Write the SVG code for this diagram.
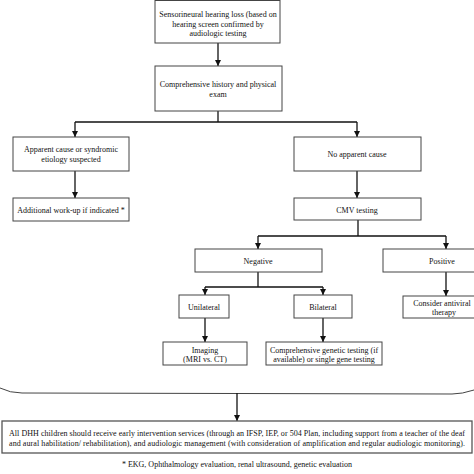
<svg xmlns="http://www.w3.org/2000/svg" width="474" height="474" viewBox="0 0 474 474">
<style>
.box{fill:#fff;stroke:#444;stroke-width:1}
.t{font-family:"Liberation Serif","Times New Roman",serif;font-size:8px;fill:#111;text-anchor:middle}
.c{fill:none;stroke:#111;stroke-width:1.3}
.b{fill:none;stroke:#444;stroke-width:1}
</style>
<defs>
<marker id="ah" markerUnits="userSpaceOnUse" markerWidth="6" markerHeight="6" refX="6" refY="3" orient="auto">
<path d="M0,0 L6,3 L0,6 z" fill="#111"/>
</marker>
</defs>
<rect width="474" height="474" fill="#fff"/>
<g id="connectors">
<line class="c" x1="218" y1="43" x2="218" y2="66" marker-end="url(#ah)"/>
<polyline class="c" points="218,111 218,122"/>
<polyline class="c" points="75,122 357,122"/>
<line class="c" x1="75" y1="122" x2="75" y2="137" marker-end="url(#ah)"/>
<line class="c" x1="357" y1="122" x2="357" y2="137" marker-end="url(#ah)"/>
<line class="c" x1="75" y1="171" x2="75" y2="198" marker-end="url(#ah)"/>
<line class="c" x1="357" y1="171" x2="357" y2="198" marker-end="url(#ah)"/>
<polyline class="c" points="358,220 358,236"/>
<polyline class="c" points="258,236 446,236"/>
<line class="c" x1="258" y1="236" x2="258" y2="249" marker-end="url(#ah)"/>
<line class="c" x1="446" y1="236" x2="446" y2="249" marker-end="url(#ah)"/>
<polyline class="c" points="258,272 258,287"/>
<polyline class="c" points="205,287 323,287"/>
<line class="c" x1="205" y1="287" x2="205" y2="295" marker-end="url(#ah)"/>
<line class="c" x1="323" y1="287" x2="323" y2="295" marker-end="url(#ah)"/>
<line class="c" x1="446" y1="272" x2="446" y2="296" marker-end="url(#ah)"/>
<line class="c" x1="205" y1="318" x2="205" y2="342" marker-end="url(#ah)"/>
<line class="c" x1="323" y1="318" x2="323" y2="342" marker-end="url(#ah)"/>
<path class="b" d="M0,388 Q10,393 22,393 L452,394 Q462,394 474,390"/>
<line class="c" x1="237" y1="393" x2="237" y2="421" marker-end="url(#ah)"/>
</g>
<g id="n1">
<rect class="box" x="155" y="0.5" width="125" height="42.5"/>
<text class="t" x="218" y="17">Sensorineural hearing loss (based on</text>
<text class="t" x="218" y="26.5">hearing screen confirmed by</text>
<text class="t" x="218" y="36">audiologic testing</text>
</g>
<g id="n2">
<rect class="box" x="155" y="66" width="127" height="45"/>
<text class="t" x="218" y="87">Comprehensive history and physical</text>
<text class="t" x="218" y="96.5">exam</text>
</g>
<g id="n3">
<rect class="box" x="13" y="137" width="116" height="34"/>
<text class="t" x="71" y="152">Apparent cause or syndromic</text>
<text class="t" x="71" y="162">etiology suspected</text>
</g>
<g id="n4">
<rect class="box" x="13" y="198" width="116" height="23"/>
<text class="t" x="71" y="213">Additional work-up if indicated *</text>
</g>
<g id="n5">
<rect class="box" x="294" y="137" width="127" height="34"/>
<text class="t" x="357" y="157">No apparent cause</text>
</g>
<g id="n6">
<rect class="box" x="294" y="198" width="127" height="22"/>
<text class="t" x="357" y="213">CMV testing</text>
</g>
<g id="n7">
<rect class="box" x="195" y="249" width="127" height="23"/>
<text class="t" x="258" y="264">Negative</text>
</g>
<g id="n8">
<rect class="box" x="383" y="249" width="120" height="23"/>
<text class="t" x="442" y="264">Positive</text>
</g>
<g id="n9">
<rect class="box" x="403" y="296" width="90" height="22"/>
<text class="t" x="442" y="306" font-size="7.6">Consider antiviral</text>
<text class="t" x="444" y="315">therapy</text>
</g>
<g id="n10">
<rect class="box" x="179" y="295" width="50" height="23"/>
<text class="t" x="204" y="310">Unilateral</text>
</g>
<g id="n11">
<rect class="box" x="294" y="295" width="58" height="23"/>
<text class="t" x="323" y="310">Bilateral</text>
</g>
<g id="n12">
<rect class="box" x="163" y="342" width="84" height="23"/>
<text class="t" x="205" y="353">Imaging</text>
<text class="t" x="205" y="362">(MRI vs. CT)</text>
</g>
<g id="n13">
<rect class="box" x="266" y="342" width="116" height="23"/>
<text class="t" x="324" y="353">Comprehensive genetic testing (if</text>
<text class="t" x="324" y="362">available) or single gene testing</text>
</g>
<g id="n14">
<rect class="box" x="2" y="421" width="470" height="32" style="stroke:#555;stroke-width:1.3"/>
<text class="t" x="237" y="436" font-size="7.6" textLength="456" lengthAdjust="spacing">All DHH children should receive early intervention services (through an IFSP, IEP, or 504 Plan, including support from a teacher of the deaf</text>
<text class="t" x="237" y="446" font-size="7.6" textLength="456" lengthAdjust="spacing">and aural habilitation/ rehabilitation), and audiologic management (with consideration of amplification and regular audiologic monitoring).</text>
</g>
<text class="t" x="237" y="467">* EKG, Ophthalmology evaluation, renal ultrasound, genetic evaluation</text>
</svg>
